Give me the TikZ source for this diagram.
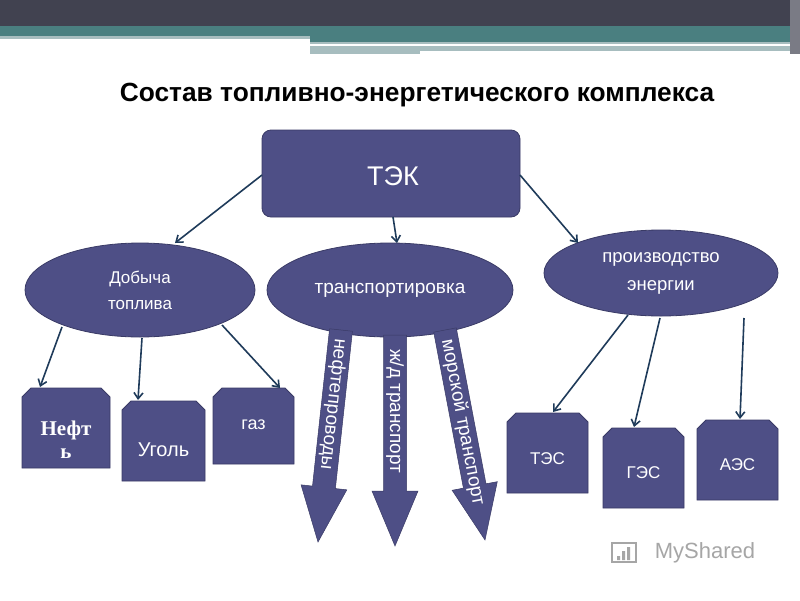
\documentclass[tikz,border=0pt]{standalone}
\usepackage{fontspec}
\setmainfont{Liberation Sans}
\newfontfamily\serifb{Liberation Serif}
\usetikzlibrary{shapes.misc,shapes.geometric,arrows.meta,calc}
\definecolor{fillc}{HTML}{4E4F86}
\definecolor{edgec}{HTML}{3A3B66}
\definecolor{arrc}{HTML}{1F3B5A}
\definecolor{topc}{HTML}{414250}
\definecolor{tealc}{HTML}{4A7F80}
\definecolor{lightc}{HTML}{A7BDBF}
\newcommand{\shiftbox}[2]{\raisebox{#1}[0pt][0pt]{#2}}
\tikzset{
 ell/.style={ellipse,fill=fillc,draw=edgec,line width=0.8pt,text=white,font=\fontsize{17}{26}\selectfont,align=center},
 snip/.style={chamfered rectangle,chamfered rectangle corners={north east,north west},chamfered rectangle xsep=9pt,chamfered rectangle ysep=9pt,fill=fillc,draw=edgec,line width=0.8pt,text=white,font=\fontsize{18}{22}\selectfont,inner sep=0pt},
 con/.style={draw=arrc,line width=1.6pt,-{Straight Barb[length=6pt,width=9pt]}},
 blk/.style={fill=fillc,draw=edgec,line width=0.5pt},
 alab/.style={text=white,font=\fontsize{19}{22}\selectfont,sloped,allow upside down,inner sep=0pt}
}
\begin{document}
\begin{tikzpicture}[x=1pt,y=-1pt]
\useasboundingbox (0,0) rectangle (800,600);
\fill[white] (0,0) rectangle (800,600);
\fill[topc] (0,0) rectangle (800,26);
\fill[tealc] (0,26) rectangle (800,36);
\fill[lightc] (0,36) rectangle (310,39);
\fill[tealc] (310,36) rectangle (800,42);
\fill[lightc] (310,42) rectangle (800,44);
\fill[lightc] (310,46) rectangle (420,54);
\fill[lightc] (420,46) rectangle (800,51);
\fill[topc!70] (790,0) rectangle (800,54);
\node[font=\bfseries\fontsize{26.3}{30}\selectfont] (title) at (417,95) {Состав топливно-энергетического комплекса};
\node[rounded corners=9pt,fill=fillc,draw=edgec,line width=0.8pt,minimum width=258pt,minimum height=87pt] (tek) at (391,173.5) {};
\node[text=white,font=\fontsize{27}{32}\selectfont] (tekt) at (393,176) {ТЭК};
\node[ell,minimum width=230pt,minimum height=94pt] (dob) at (140,290) {Добыча\\топлива};
\node[ell,minimum width=246pt,minimum height=94pt,font=\fontsize{19}{23}\selectfont] (tr) at (390,290) {транспортировка};
\node[ell,minimum width=234pt,minimum height=86pt,font=\fontsize{18.5}{28}\selectfont] (pr) at (661,273) {производство\\энергии};
\node[snip,minimum width=88pt,minimum height=80pt,font=\serifb\bfseries\fontsize{21}{25}\selectfont] (neft) at (66,428) {\shiftbox{-30pt}{\shortstack{Нефт\\[5pt]ь}}};
\node[snip,minimum width=83pt,minimum height=80pt,font=\fontsize{20}{24}\selectfont] (ug) at (163.5,441) {\shiftbox{-15pt}{Уголь}};
\node[snip,minimum width=81pt,minimum height=76pt] (gaz) at (253.5,426) {\shiftbox{-3pt}{газ}};
\node[snip,minimum width=81pt,minimum height=80pt,font=\fontsize{17}{20}\selectfont] (tes) at (547.5,453) {\shiftbox{-11pt}{ТЭС}};
\node[snip,minimum width=81pt,minimum height=80pt,font=\fontsize{17}{20}\selectfont] (ges) at (643.5,468) {\shiftbox{-10pt}{ГЭС}};
\node[snip,minimum width=81pt,minimum height=80pt,font=\fontsize{17}{20}\selectfont] (aes) at (737.5,460) {\shiftbox{-10pt}{АЭС}};
\coordinate (t1) at (262,175); \coordinate (t3) at (520,175);
\draw[con] (t1) -- (175,243);
\draw[con] (393,217) -- (397,243);
\draw[con] (t3) -- (578,243);
\draw[con] (62,327) -- (40,387);
\draw[con] (142,338) -- (138,400);
\draw[con] (222,325) -- (280,388);
\draw[con] (628,315) -- (553,412);
\draw[con] (660,318) -- (634,427);
\draw[con] (744,318) -- (740,419);
\coordinate (a1) at (341,330); \coordinate (b1) at (318,542);
\coordinate (a2) at (395,335); \coordinate (b2) at (395,546);
\coordinate (a3) at (445,330); \coordinate (b3) at (485,540);
\foreach \i in {1,2,3}{
 \coordinate (h\i) at ($(b\i)!55pt!(a\i)$);
 \fill[blk] ($(a\i)!11.5pt!90:(b\i)$) -- ($(h\i)!11.5pt!-90:(a\i)$) -- ($(h\i)!23pt!-90:(a\i)$) -- (b\i)
   -- ($(h\i)!23pt!90:(a\i)$) -- ($(h\i)!11.5pt!90:(a\i)$) -- ($(a\i)!11.5pt!-90:(b\i)$) -- cycle;
}
\path (a1) -- (b1) node[alab,pos=0.35] (l1) {нефтепроводы};
\path (a2) -- (b2) node[alab,pos=0.36] (l2) {ж/д транспорт};
\path (a3) -- (b3) node[alab,pos=0.44] (l3) {морской транспорт};
\node[text=gray!70,font=\fontsize{22}{26}\selectfont] (logo) at (705,553) {MyShared};
\draw[gray!70,line width=1.5pt] (612,543) rectangle (636,562);
\fill[gray!70] (617,556) rectangle (620,560) (622,551) rectangle (625,560) (627,547) rectangle (630,560);
\end{tikzpicture}
\end{document}
